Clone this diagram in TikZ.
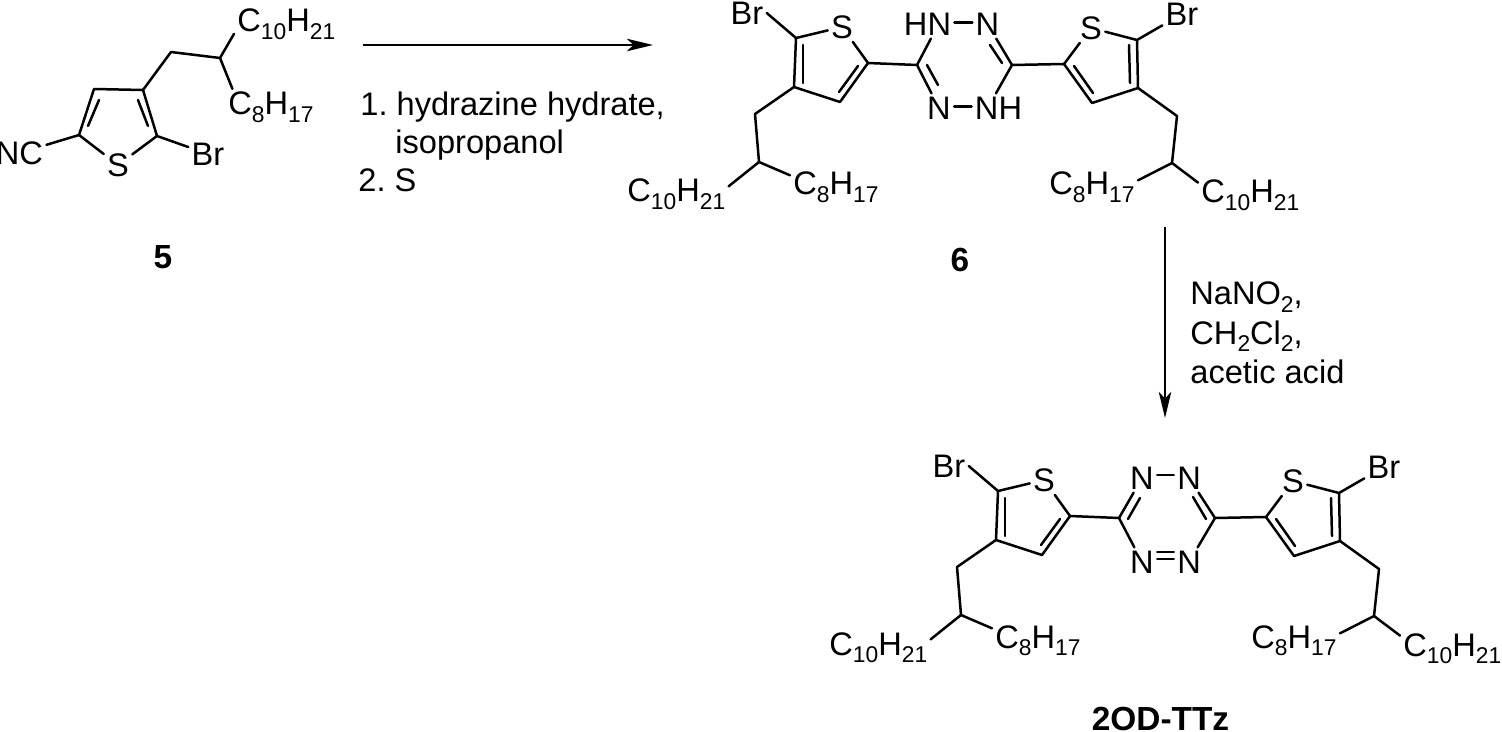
\documentclass[tikz,border=0pt]{standalone}
\usepackage{fontspec}
\setmainfont{Liberation Sans}
\usepackage{tikz}
\usetikzlibrary{arrows.meta}
\newcommand{\lowsub}[1]{\raisebox{-0.24em}{\fontsize{11.4pt}{11.4pt}\selectfont #1}}
\newcommand{\alkyl}[2]{C\lowsub{#1}H\lowsub{#2}}
\tikzset{
  bond/.style={draw=black, line width=1.25pt, line cap=round, line join=round},
  atom/.style={inner sep=1.5pt, text=black},
  chain/.style={inner sep=1.5pt, text=black, anchor=base west},
  reagent/.style={inner sep=0pt, text=black, anchor=base west},
  cmpd/.style={inner sep=0pt, text=black, font=\bfseries\fontsize{16.7pt}{16.7pt}\selectfont},
  rxn/.style={draw=black, line width=1.25pt, -{Stealth[length=13pt,width=6.2pt,inset=3.2pt]}},
  % both thienyl arms with their side chains, shared by 6 and the tetrazine
  arms/.pic={
    \coordinate (-la) at (796,38);
    \coordinate (-lb) at (794,87);
    \coordinate (-lc) at (840,102);
    \coordinate (-ld) at (868,63);
    \coordinate (-le) at (755,114);
    \coordinate (-lf) at (759,162);
    \coordinate (-ra) at (1137,40);
    \coordinate (-rb) at (1138,88);
    \coordinate (-rc) at (1092,103);
    \coordinate (-rd) at (1064,64);
    \coordinate (-re) at (1177,116);
    \coordinate (-rf) at (1172,163);
    \node[atom] (-lbr) at (747,13) {Br};
    \node[atom] (-ls) at (842,27) {S};
    \node[chain] (-lcx) at (624,202) {\alkyl{10}{21}};
    \node[chain] (-lcy) at (790,195) {\alkyl{8}{17}};
    \node[atom] (-rbr) at (1182,14) {Br};
    \node[atom] (-rs) at (1091,28) {S};
    \node[chain] (-rcy) at (1046,195) {\alkyl{8}{17}};
    \node[chain] (-rcx) at (1198,203) {\alkyl{10}{21}};
    % left arm
    \draw[bond] (-lbr.east) -- (-la) -- (-ls);
    \draw[bond] (-la) -- (-lb) -- (-lc) -- (-ld) -- (-ls);
    \draw[bond] (803,45) -- (803,83);
    \draw[bond] (839,92) -- (858,66);
    \draw[bond] (-lb) -- (-le) -- (-lf);
    \draw[bond] (-lcx.9) -- (-lf) -- (-lcy.165);
    % right arm
    \draw[bond] (-rbr) -- (-ra) -- (-rs);
    \draw[bond] (-ra) -- (-rb) -- (-rc) -- (-rd) -- (-rs);
    \draw[bond] (1129,45) -- (1130,83);
    \draw[bond] (1074,66) -- (1093,93);
    \draw[bond] (-rb) -- (-re) -- (-rf);
    \draw[bond] (-rcy.9) -- (-rf) -- (-rcx.166);
  }
}

\begin{document}
\frenchspacing
\begin{tikzpicture}[x=0.5pt, y=-0.5pt, font=\fontsize{16.3pt}{16.3pt}\selectfont]
  \useasboundingbox (0,0) rectangle (1502,732);

  % compound 5
  \coordinate (a2) at (79,135);
  \coordinate (a3) at (94,89);
  \coordinate (a4) at (143,90);
  \coordinate (a5) at (157,136);
  \coordinate (a6) at (171,52);
  \coordinate (a7) at (220,58);
  \node[atom] (aS) at (118,165) {S};
  \node[atom] (aCN) at (19.5,153) {NC};
  \node[atom] (aBr) at (208,154) {Br};
  \node[chain] (aCx) at (234,32) {\alkyl{10}{21}};
  \node[chain] (aCy) at (225,115) {\alkyl{8}{17}};
  \draw[bond] (aCN) -- (a2) -- (a3) -- (a4) -- (a5) -- (aBr);
  \draw[bond] (a2) -- (aS) -- (a5);
  \draw[bond] (88,126) -- (99,100);
  \draw[bond] (148,126) -- (138,100);
  \draw[bond] (a4) -- (a6) -- (a7);
  \draw[bond] (aCx.190) -- (a7) -- (aCy.154);
  \node[cmpd] (lab5) at (163,257) {5};

  % compound 6
  \pic (b) at (0,0) {arms};
  \coordinate (bl) at (917,65);
  \coordinate (br) at (1012,65);
  \node[atom] (bN1) at (927.5,24) {HN};
  \node[atom] (bN2) at (987.5,24) {N};
  \node[atom] (bN3) at (939,108) {N};
  \node[atom] (bN4) at (998.5,108) {NH};
  \draw[bond] (b-ld) -- (bl) -- (bN1.283);
  \draw[bond] (bl) -- (bN3);
  \draw[bond] (927,65) -- (938,85);
  \draw[bond] (b-rd) -- (br) -- (bN4.100);
  \draw[bond] (br) -- (bN2);
  \draw[bond] (1002,63) -- (990,45);
  \draw[bond] ([yshift=0.7pt]bN1.east) -- ([yshift=0.7pt]bN2.west);
  \draw[bond] ([yshift=0.7pt]bN3.east) -- ([yshift=0.7pt]bN4.west);
  \node[cmpd] (lab6) at (960,260) {6};

  % tetrazine
  \pic (c) at (202,453) {arms};
  \coordinate (cl) at (1119,518);
  \coordinate (cr) at (1215,518);
  \node[atom] (cN1) at (1142,478) {N};
  \node[atom] (cN2) at (1189,478) {N};
  \node[atom] (cN3) at (1142,562) {N};
  \node[atom] (cN4) at (1189,562) {N};
  \draw[bond] (c-ld) -- (cl) -- (cN1);
  \draw[bond] (cl) -- (cN3);
  \draw[bond] (1128,519) -- (1140,498);
  \draw[bond] (c-rd) -- (cr) -- (cN2);
  \draw[bond] (cr) -- (cN4);
  \draw[bond] (1206,519) -- (1193,497);
  \draw[bond] ([yshift=1.5pt]cN1.east) -- ([yshift=1.5pt]cN2.west);
  \draw[bond] ([yshift=5pt]cN3.east) -- ([yshift=5pt]cN4.west);
  \draw[bond] ([yshift=1.5pt]cN3.east) -- ([yshift=1.5pt]cN4.west);
  \node[cmpd] (labT) at (1160.5,718.5) {2OD-TTz};

  % arrows and conditions
  \coordinate (ar1) at (363,45);
  \coordinate (ar2) at (653,45);
  \coordinate (ar3) at (1165,227);
  \coordinate (ar4) at (1165,418);
  \draw[rxn] (ar1) -- (ar2);
  \draw[rxn] (ar3) -- (ar4);
  \node[reagent] (r1) at (360,116) {1. hydrazine hydrate,};
  \node[reagent] (r2) at (395,154) {isopropanol};
  \node[reagent] (r3) at (358,192) {2. S};
  \node[reagent] (r4) at (1190,305) {NaNO\lowsub{2},};
  \node[reagent] (r5) at (1190,344) {CH\lowsub{2}Cl\lowsub{2},};
  \node[reagent] (r6) at (1190,383) {acetic acid};
\end{tikzpicture}
\end{document}
